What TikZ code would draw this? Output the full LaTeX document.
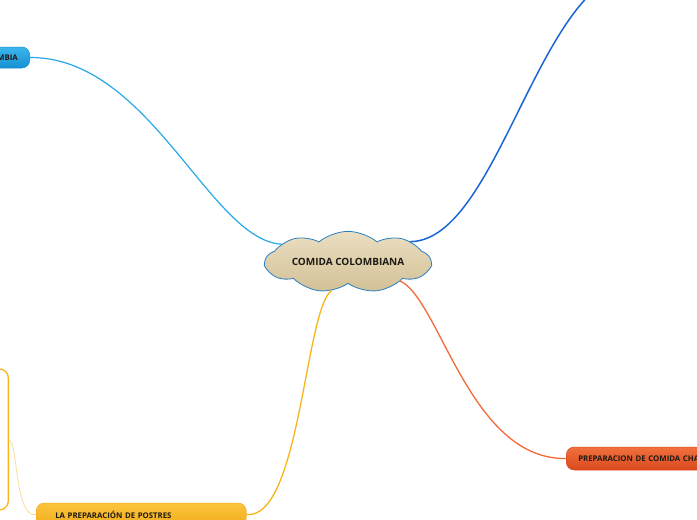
\documentclass[tikz,border=0pt]{standalone}
\usepackage{fontspec}
\setmainfont{Open Sans}
\usetikzlibrary{shapes.symbols}
\definecolor{cloudtop}{HTML}{EADFC2}
\definecolor{cloudbot}{HTML}{D3C096}
\definecolor{cloudline}{HTML}{2A80C2}
\definecolor{bluetop}{HTML}{3DB6EC}
\definecolor{bluebot}{HTML}{1590D2}
\definecolor{bluelink}{HTML}{29A8E8}
\definecolor{darkblue}{HTML}{1A66D6}
\definecolor{orangetop}{HTML}{F2703E}
\definecolor{orangebot}{HTML}{D94A1E}
\definecolor{orangelink}{HTML}{F26A3A}
\definecolor{yellowtop}{HTML}{FBC53C}
\definecolor{yellowbot}{HTML}{F2AC1C}
\definecolor{yellowlink}{HTML}{F8B418}
\definecolor{paleyellow}{HTML}{F9DA8C}
\definecolor{txt}{HTML}{1E1A14}
\tikzset{
  topicbox/.style={rounded corners=8pt, minimum height=23pt, inner ysep=0pt,
    font=\fontsize{7.8}{9}\selectfont\bfseries, text=txt, anchor=west},
  link/.style={line cap=round},
}
\begin{document}
\begin{tikzpicture}[x=1pt,y=-1pt]
\useasboundingbox (0,0) rectangle (697,520);
\clip (0,0) rectangle (697,520);
% central cloud
\node[cloud, cloud puffs=9, cloud puff arc=80, aspect=3.6,
  minimum width=165pt, minimum height=46pt, inner sep=0pt,
  top color=cloudtop, bottom color=cloudbot, draw=cloudline, line width=0.8pt,
  font=\fontsize{10}{12}\selectfont\bfseries, text=txt] (main) at (348,262) {COMIDA COLOMBIANA};
% left blue topic
\node[topicbox, anchor=east, minimum height=21pt, top color=bluetop, bottom color=bluebot,
  draw=bluebot, line width=0.5pt, text width=56pt, align=right, inner xsep=12pt] (hist) at (30,57.5) {MBIA};
% orange topic
\node[topicbox, top color=orangetop, bottom color=orangebot, draw=orangebot, line width=0.5pt,
  text width=180pt, align=left, inner xsep=12pt] (prep) at (566,458.5) {PREPARACION DE COMIDA CHA};
% yellow topic
\node[topicbox, top color=yellowtop, bottom color=yellowbot, draw=yellowbot, line width=0.5pt,
  text width=172pt, align=left, inner xsep=19pt] (postres) at (36,514.5) {LA PREPARACIÓN DE POSTRES};
% yellow sub box (outline only)
\node[draw=yellowlink, line width=1.3pt, rounded corners=9pt, minimum width=120pt, minimum height=141pt,
  anchor=east, inner sep=0pt] (sub) at (9,439.5) {};
% off-canvas end of dark blue branch
\coordinate (topend) at (640,-30);
% connectors
\draw[link, bluelink, line width=1.2pt] (hist.east) .. controls (150,57) and (210,240) .. (main.165);
\draw[link, darkblue, line width=1.5pt] (main.18) .. controls (500,240) and (540,-30) .. (topend);
\draw[link, orangelink, line width=1.3pt] (main.340) .. controls (440,300) and (470,460) .. (prep.west);
\draw[link, yellowlink, line width=1.3pt] (main.240) .. controls (305,310) and (300,520) .. (postres.east);
\draw[link, paleyellow, line width=0.7pt] (sub.east) .. controls (18,443) and (15,519) .. (postres.west);
\end{tikzpicture}
\end{document}
